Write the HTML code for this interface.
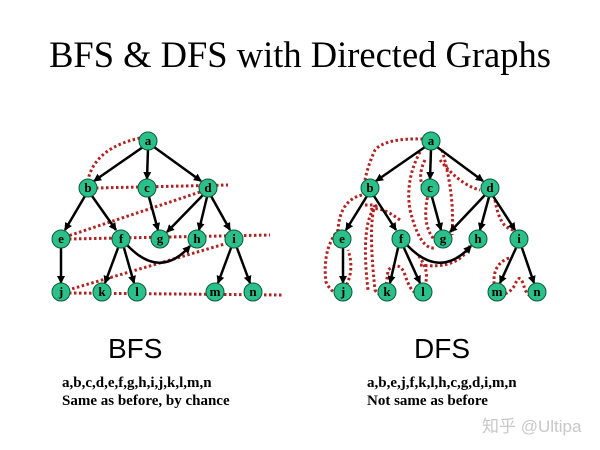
<!DOCTYPE html>
<html><head><meta charset="utf-8"><style>
html,body{margin:0;padding:0;background:#fff;width:600px;height:450px;overflow:hidden}
</style></head><body>
<svg width="600" height="450" xmlns="http://www.w3.org/2000/svg">
<defs>
<marker id="ar" markerWidth="8" markerHeight="8" refX="7" refY="4" orient="auto" markerUnits="userSpaceOnUse"><path d="M0,0 L8,4 L0,8 z" fill="#000"/></marker>
</defs>
<text x="300" y="67" text-anchor="middle" font-family="Liberation Serif,serif" font-size="36.5">BFS &amp; DFS with Directed Graphs</text>

<g fill="none" stroke="#b22222" stroke-width="3" stroke-dasharray="2.5,2.5">
<path d="M140,138 Q95,148 88,180"/>
<path d="M96,188 L228,185"/>
<path d="M200,192 L68,236"/>
<path d="M69,239 L270,235"/>
<path d="M228,243 L68,290"/>
<path d="M69,293 L283,295"/>
</g>
<g stroke="#000" stroke-width="2.5" fill="none" marker-end="url(#ar)">
<line x1="143" y1="147" x2="94" y2="181"/>
<line x1="148" y1="149" x2="147" y2="179"/>
<line x1="154" y1="147" x2="201" y2="181"/>
<line x1="85" y1="196" x2="65" y2="230"/>
<line x1="92" y1="196" x2="116" y2="230"/>
<line x1="149" y1="197" x2="158" y2="230"/>
<line x1="203" y1="195" x2="167" y2="232"/>
<line x1="207" y1="197" x2="199" y2="230"/>
<line x1="211" y1="196" x2="230" y2="230"/>
<line x1="61" y1="248" x2="61" y2="283"/>
<line x1="118" y1="248" x2="105" y2="283"/>
<line x1="124" y1="248" x2="134" y2="283"/>
<path d="M127,245 Q160,280 190,246"/>
<line x1="231" y1="248" x2="218" y2="283"/>
<line x1="237" y1="248" x2="250" y2="283"/>
</g>
<g fill="#2bbf8a" stroke="#0a5a3a" stroke-width="1">
<circle cx="148" cy="141" r="9"/><circle cx="88" cy="188" r="9"/><circle cx="147" cy="188" r="9"/><circle cx="208" cy="188" r="9"/>
<circle cx="61" cy="239" r="9"/><circle cx="121" cy="239" r="9"/><circle cx="160" cy="239" r="9"/><circle cx="197" cy="239" r="9"/><circle cx="234" cy="239" r="9"/>
<circle cx="61" cy="292" r="9"/><circle cx="102" cy="292" r="9"/><circle cx="137" cy="292" r="9"/><circle cx="215" cy="292" r="9"/><circle cx="253" cy="292" r="9"/>
</g>
<g font-family="Liberation Serif,serif" font-weight="bold" font-size="13" text-anchor="middle">
<text x="148" y="145">a</text><text x="88" y="192">b</text><text x="147" y="192">c</text><text x="208" y="192">d</text>
<text x="61" y="243">e</text><text x="121" y="243">f</text><text x="160" y="243">g</text><text x="197" y="243">h</text><text x="234" y="243">i</text>
<text x="61" y="296">j</text><text x="102" y="296">k</text><text x="137" y="296">l</text><text x="215" y="296">m</text><text x="253" y="296">n</text>
</g>

<g fill="none" stroke="#b22222" stroke-width="3" stroke-dasharray="2.5,2.5">
<path d="M423,139 Q385,138 375,150 Q368,165 365,180"/>
<path d="M362,195 Q340,200 338,230 Q322,250 326,282 Q335,300 345,288 Q355,270 348,250"/>
<path d="M365,205 Q370,205 375,205 Q368,225 375,290 Q385,305 388,270 Q400,260 405,275 Q415,305 425,285 Q430,270 418,255"/>
<path d="M377,205 Q360,220 368,290"/>
<path d="M400,220 Q380,205 370,210"/>
<path d="M420,265 Q460,270 470,245 Q480,230 470,240"/>
<path d="M425,160 Q415,180 428,195 Q420,230 440,245"/>
<path d="M420,152 Q405,180 410,210 Q420,250 435,248"/>
<path d="M440,160 Q460,185 480,190"/>
<path d="M442,150 Q455,195 452,235"/>
<path d="M495,200 Q500,230 515,230"/>
<path d="M509,258 Q490,265 495,290 Q505,300 515,285 Q520,270 525,290 Q535,305 540,290"/>
</g>
<g stroke="#000" stroke-width="2.5" fill="none" marker-end="url(#ar)">
<line x1="425" y1="147" x2="376" y2="181"/>
<line x1="431" y1="149" x2="430" y2="179"/>
<line x1="437" y1="147" x2="483" y2="181"/>
<line x1="367" y1="196" x2="346" y2="230"/>
<line x1="374" y1="196" x2="396" y2="230"/>
<line x1="432" y1="197" x2="441" y2="230"/>
<line x1="485" y1="195" x2="450" y2="232"/>
<line x1="489" y1="197" x2="480" y2="230"/>
<line x1="493" y1="196" x2="515" y2="230"/>
<line x1="343" y1="248" x2="343" y2="283"/>
<line x1="398" y1="248" x2="390" y2="283"/>
<line x1="404" y1="248" x2="420" y2="283"/>
<path d="M407,245 Q440,280 471,246"/>
<line x1="516" y1="248" x2="500" y2="283"/>
<line x1="522" y1="248" x2="534" y2="283"/>
</g>
<g fill="#2bbf8a" stroke="#0a5a3a" stroke-width="1">
<circle cx="431" cy="141" r="9"/><circle cx="370" cy="188" r="9"/><circle cx="430" cy="188" r="9"/><circle cx="490" cy="188" r="9"/>
<circle cx="342" cy="239" r="9"/><circle cx="401" cy="239" r="9"/><circle cx="443" cy="239" r="9"/><circle cx="478" cy="239" r="9"/><circle cx="519" cy="239" r="9"/>
<circle cx="343" cy="292" r="9"/><circle cx="387" cy="292" r="9"/><circle cx="423" cy="292" r="9"/><circle cx="497" cy="292" r="9"/><circle cx="537" cy="292" r="9"/>
</g>
<g font-family="Liberation Serif,serif" font-weight="bold" font-size="13" text-anchor="middle">
<text x="431" y="145">a</text><text x="370" y="192">b</text><text x="430" y="192">c</text><text x="490" y="192">d</text>
<text x="342" y="243">e</text><text x="401" y="243">f</text><text x="443" y="243">g</text><text x="478" y="243">h</text><text x="519" y="243">i</text>
<text x="343" y="296">j</text><text x="387" y="296">k</text><text x="423" y="296">l</text><text x="497" y="296">m</text><text x="537" y="296">n</text>
</g>

<g font-family="Liberation Sans,sans-serif" font-size="28">
<text x="108" y="358">BFS</text><text x="414" y="358">DFS</text>
</g>
<g font-family="Liberation Serif,serif" font-weight="bold" font-size="15">
<text x="62" y="387">a,b,c,d,e,f,g,h,i,j,k,l,m,n</text>
<text x="62" y="405">Same as before, by chance</text>
<text x="367" y="387">a,b,e,j,f,k,l,h,c,g,d,i,m,n</text>
<text x="367" y="405">Not same as before</text>
</g>
<text x="482" y="432" font-family="Liberation Sans,Noto Sans CJK SC,sans-serif" font-size="17" fill="#c8c8c8">知乎 @Ultipa</text>
</svg>
</body></html>
